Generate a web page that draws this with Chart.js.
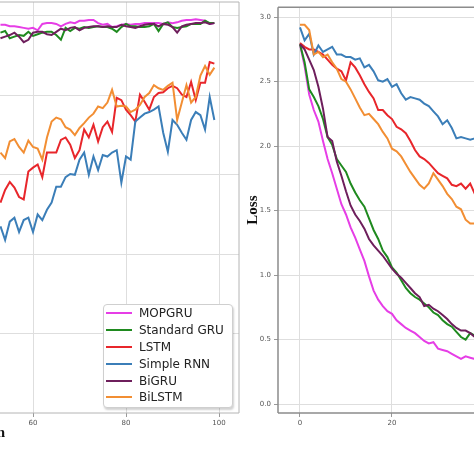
<!DOCTYPE html>
<html>
<head>
<meta charset="utf-8">
<script src="https://cdn.jsdelivr.net/npm/chart.js@4.4.1/dist/chart.umd.min.js"></script>
<style>
  body { margin: 0; width: 474px; height: 474px; overflow: hidden; background: #fff; position: relative; font-family: 'DejaVu Sans', sans-serif; }
  #accBox { position: absolute; left: 0; top: 0; width: 260px; height: 474px; }
  #lossBox { position: absolute; left: 230px; top: 0; width: 280px; height: 474px; }
  #legend { position: absolute; left: 103px; top: 304px; width: 130px; height: 104px; box-sizing: border-box;
            border: 1px solid #cfcfcf; border-radius: 4px; background: #fff; box-shadow: 1px 2px 2px rgba(0,0,0,0.18); }
  #legend .row { height: 16.8px; display: flex; align-items: center; font-size: 12px; color: #222; white-space: nowrap; }
  #legend .swatch { display: inline-block; width: 26px; height: 2px; margin: 0 7px 0 2px; }
  #epochLabel { position: absolute; right: 469px; top: 424px; font: bold 15px 'Liberation Serif', serif; color: #111; }
</style>
</head>
<body>
<div id="accBox"><canvas id="accChart"></canvas></div>
<div id="lossBox"><canvas id="lossChart"></canvas></div>
<div id="legend"></div>
<div id="epochLabel">Epoch</div>
<script>
// model names and colours
const MODELS = ['MOPGRU', 'Standard GRU', 'LSTM', 'Simple RNN', 'BiGRU', 'BiLSTM'];
const COLORS = ['#e63ee6', '#1f8a1f', '#e8262b', '#3b7eb8', '#6e1f5c', '#f28e33'];

// left panel: accuracy (%) for epochs 53..99 (rest is cropped out)
const accEpochs = [53,54,55,56,57,58,59,60,61,62,63,64,65,66,67,68,69,70,71,72,73,74,75,76,77,78,79,80,81,82,83,84,85,86,87,88,89,90,91,92,93,94,95,96,97,98,99];
const mopgruAcc = [98.9,98.9,98.7,98.7,98.6,98.5,98.4,98.5,98.2,99.0,99.1,99.1,99.0,98.7,99.0,99.2,99.1,99.4,99.4,99.5,99.5,99.1,98.9,99.0,98.6,98.7,98.9,99.0,98.9,99.0,99.0,99.1,99.1,99.1,99.1,99.0,99.2,99.1,99.2,99.4,99.5,99.5,99.6,99.5,99.4,99.0,99.1];
const gruAcc = [97.9,98.1,97.2,97.4,97.6,97.5,98.0,97.5,97.7,97.9,98.0,98.0,97.6,97.0,98.5,98.1,98.5,98.4,98.6,98.5,98.6,98.7,98.6,98.6,98.4,98.0,98.6,99.0,98.7,98.7,98.6,98.6,98.7,99.0,98.1,99.0,99.2,98.6,98.5,98.6,98.7,99.0,99.0,99.0,99.4,99.1,99.1];
const lstmAcc = [76.5,78.1,79.1,78.4,77.2,76.9,80.4,80.9,81.3,79.7,82.8,82.8,82.8,84.4,84.7,83.8,82.1,83.1,85.7,84.7,86.3,84.2,86.0,86.7,85.4,89.7,89.4,88.2,87.5,86.7,90.1,89.2,88.2,89.8,90.3,90.4,90.9,91.2,90.9,90.1,89.8,91.7,89.4,91.6,91.6,94.2,94.0];
const rnnAcc = [73.5,71.8,74.1,74.6,72.8,74.3,74.6,72.8,75.0,74.3,75.6,76.5,78.5,78.5,79.7,80.1,80.0,81.9,82.8,80.0,82.3,80.6,82.5,82.3,82.8,83.1,79.0,82.3,81.9,86.7,87.2,87.7,87.9,88.2,88.6,85.3,82.9,86.9,86.3,85.3,84.4,86.9,87.9,87.5,85.7,89.8,86.9];
const bigruAcc = [97.2,97.4,97.6,97.9,97.4,96.7,97.0,97.9,98.0,98.0,97.7,97.6,98.0,98.4,98.2,98.5,98.6,98.2,98.5,98.6,98.7,98.7,98.6,98.7,98.6,98.6,98.9,98.7,98.6,98.5,98.7,98.9,99.0,99.0,98.7,99.0,98.9,98.6,97.9,98.7,98.9,99.0,99.1,99.1,99.2,99.0,99.1];
const bilstmAcc = [82.8,82.1,84.2,84.5,83.5,82.8,84.3,83.5,83.3,81.9,84.7,86.7,87.2,87.0,86.0,85.7,85.0,85.9,86.5,87.2,87.7,88.6,88.4,89.1,90.7,88.6,88.7,88.6,87.9,88.2,88.8,89.8,90.3,91.3,90.9,90.7,91.2,91.6,86.9,89.1,91.3,89.1,89.8,92.5,93.7,92.6,93.5];
const accXTicks = [60, 80, 100];
const accYTicks = [60, 70, 80, 90, 100];

// right panel: loss for epochs 0..38 (rest is cropped out)
const lossEpochs = [0,1,2,3,4,5,6,7,8,9,10,11,12,13,14,15,16,17,18,19,20,21,22,23,24,25,26,27,28,29,30,31,32,33,34,35,36,37,38];
const mopgruLoss = [2.79,2.62,2.40,2.28,2.19,2.04,1.90,1.79,1.67,1.55,1.47,1.37,1.29,1.20,1.11,0.99,0.88,0.81,0.76,0.72,0.70,0.65,0.62,0.59,0.57,0.55,0.52,0.49,0.47,0.48,0.43,0.42,0.41,0.39,0.37,0.35,0.37,0.36,0.35];
const gruLoss = [2.79,2.65,2.44,2.38,2.31,2.21,2.07,2.01,1.90,1.85,1.80,1.71,1.64,1.58,1.53,1.44,1.35,1.28,1.19,1.14,1.06,1.02,0.96,0.90,0.86,0.83,0.81,0.78,0.75,0.71,0.69,0.65,0.62,0.60,0.56,0.52,0.50,0.55,0.53];
const lstmLoss = [2.80,2.77,2.75,2.75,2.73,2.71,2.67,2.63,2.60,2.58,2.51,2.65,2.61,2.55,2.48,2.42,2.37,2.28,2.28,2.24,2.21,2.15,2.13,2.10,2.04,1.97,1.92,1.90,1.87,1.83,1.79,1.77,1.75,1.70,1.69,1.71,1.67,1.71,1.63];
const rnnLoss = [2.92,2.82,2.87,2.71,2.78,2.73,2.75,2.77,2.71,2.71,2.69,2.69,2.67,2.68,2.61,2.63,2.58,2.51,2.50,2.52,2.46,2.48,2.41,2.36,2.38,2.37,2.36,2.33,2.31,2.27,2.23,2.17,2.20,2.14,2.06,2.07,2.06,2.05,2.06];
const bigruLoss = [2.79,2.75,2.67,2.59,2.46,2.29,2.07,2.04,1.88,1.77,1.65,1.54,1.47,1.42,1.36,1.28,1.23,1.19,1.15,1.10,1.05,1.01,0.98,0.94,0.90,0.86,0.83,0.76,0.77,0.74,0.72,0.69,0.66,0.62,0.59,0.57,0.57,0.55,0.52];
const bilstmLoss = [2.94,2.94,2.90,2.71,2.73,2.69,2.71,2.65,2.60,2.52,2.50,2.44,2.37,2.30,2.24,2.25,2.21,2.17,2.11,2.06,1.98,1.96,1.92,1.86,1.80,1.75,1.70,1.67,1.71,1.79,1.74,1.69,1.63,1.59,1.53,1.51,1.43,1.40,1.40];
const lossXTicks = [0, 20, 40];
const lossYTicks = [0, 0.5, 1.0, 1.5, 2.0, 2.5, 3.0];

const tickFont = { family: 'DejaVu Sans', size: 7 };

// axes box drawn around the plot area (matplotlib spines)
const framePlugin = {
  id: 'frame',
  beforeDatasetsDraw(chart, args, opts) {
    const { ctx, chartArea: a } = chart;
    ctx.save();
    ctx.strokeStyle = opts.color;
    ctx.lineWidth = opts.width;
    ctx.beginPath();
    if (opts.sides.includes('l')) { ctx.moveTo(a.left, a.top); ctx.lineTo(a.left, a.bottom); }
    if (opts.sides.includes('t')) { ctx.moveTo(a.left, a.top); ctx.lineTo(a.right, a.top); }
    if (opts.sides.includes('r')) { ctx.moveTo(a.right, a.top); ctx.lineTo(a.right, a.bottom); }
    if (opts.sides.includes('b')) { ctx.moveTo(a.left, a.bottom); ctx.lineTo(a.right, a.bottom); }
    ctx.stroke();
    ctx.restore();
  }
};

function makeSets(xs, series) {
  return series.map((vals, i) => ({
    label: MODELS[i],
    data: xs.map((x, j) => ({ x: x, y: vals[j] })),
    borderColor: COLORS[i],
    backgroundColor: COLORS[i],
    borderWidth: 2,
    pointRadius: 0,
    tension: 0,
    order: series.length - i   // later series on top, like matplotlib
  }));
}

const accChart = new Chart(document.getElementById('accChart'), {
  type: 'line',
  data: { datasets: makeSets(accEpochs, [mopgruAcc, gruAcc, lstmAcc, rnnAcc, bigruAcc, bilstmAcc]) },
  options: {
    responsive: true, maintainAspectRatio: false, animation: false,
    layout: { padding: { left: 0, right: 21, top: 2, bottom: 41 } },
    plugins: { legend: { display: false }, tooltip: { enabled: false },
               frame: { color: '#b4b4b4', width: 1, sides: 'trb' } },
    scales: {
      x: {
        type: 'linear', min: 52.9, max: 104.3,
        afterBuildTicks: s => { s.ticks = accXTicks.map(v => ({ value: v })); },
        afterFit: s => { s.height = 20; },
        grid: { color: '#dedede', lineWidth: 1, tickLength: 4, tickColor: '#999' },
        border: { display: false },
        ticks: { font: tickFont, color: '#555', padding: 2, maxRotation: 0 }
      },
      y: {
        min: 50, max: 101.76,
        afterBuildTicks: s => { s.ticks = accYTicks.map(v => ({ value: v })); },
        afterFit: s => { s.width = 0; },
        grid: { color: '#dedede', lineWidth: 1, drawTicks: false },
        border: { display: false },
        ticks: { display: false }
      }
    }
  },
  plugins: [framePlugin]
});

new Chart(document.getElementById('lossChart'), {
  type: 'line',
  data: { datasets: makeSets(lossEpochs, [mopgruLoss, gruLoss, lstmLoss, rnnLoss, bigruLoss, bilstmLoss]) },
  options: {
    responsive: true, maintainAspectRatio: false, animation: false,
    layout: { padding: { left: 14, right: 0, top: 5, bottom: 41 } },
    plugins: { legend: { display: false }, tooltip: { enabled: false },
               frame: { color: '#8c8c8c', width: 1.5, sides: 'ltrb' } },
    scales: {
      x: {
        type: 'linear', min: -4.78, max: 45.65,
        afterBuildTicks: s => { s.ticks = lossXTicks.map(v => ({ value: v })); },
        afterFit: s => { s.height = 20; },
        grid: { color: '#dedede', lineWidth: 1, tickLength: 4, tickColor: '#999' },
        border: { display: false },
        ticks: { font: tickFont, color: '#555', padding: 2, maxRotation: 0 }
      },
      y: {
        min: -0.069, max: 3.077,
        afterBuildTicks: s => { s.ticks = lossYTicks.map(v => ({ value: v })); },
        afterFit: s => { s.width = 34; },
        grid: { color: '#dedede', lineWidth: 1, tickLength: 4, tickColor: '#999' },
        border: { display: false },
        ticks: { font: tickFont, color: '#555', padding: 3, callback: v => v.toFixed(1) },
        title: { display: true, text: 'Loss', color: '#111', padding: 0,
                 font: { family: 'Liberation Serif', weight: 'bold', size: 15 } }
      }
    }
  },
  plugins: [framePlugin]
});

// legend sits inside the accuracy plot, lower right
const legendBox = document.getElementById('legend');
accChart.data.datasets.forEach(ds => {
  const row = document.createElement('div');
  row.className = 'row';
  const sw = document.createElement('span');
  sw.className = 'swatch';
  sw.style.background = ds.borderColor;
  const txt = document.createElement('span');
  txt.textContent = ds.label;
  row.appendChild(sw);
  row.appendChild(txt);
  legendBox.appendChild(row);
});
</script>
</body>
</html>
